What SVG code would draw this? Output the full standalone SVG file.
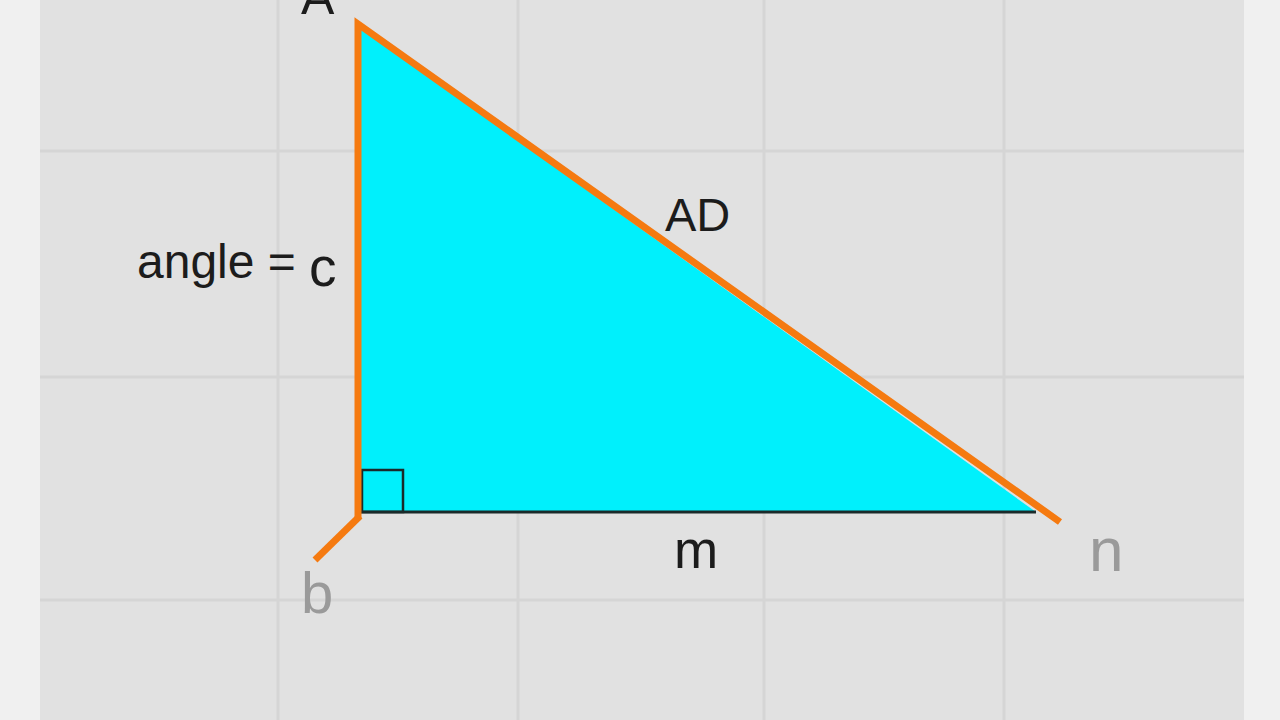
<svg xmlns="http://www.w3.org/2000/svg" width="1280" height="720" viewBox="0 0 1280 720">
<style>
.lbl{font-family:"Liberation Sans",Arial,sans-serif;font-size:48px;fill:#1c1c1c}
.gray{fill:#9a9a9a}
.grid{stroke:#d5d5d5;stroke-width:3}
.edge{stroke:#f57a10;stroke-width:7;fill:none;stroke-linecap:butt;stroke-linejoin:miter}
</style>
<rect x="0" y="0" width="1280" height="720" fill="#f0f0f0"/>
<rect x="40" y="0" width="1204" height="720" fill="#e1e1e1"/>
<g id="grid">
<line class="grid" x1="40" y1="151" x2="1244" y2="151"/>
<line class="grid" x1="40" y1="377" x2="1244" y2="377"/>
<line class="grid" x1="40" y1="600" x2="1244" y2="600"/>
<line class="grid" x1="278" y1="0" x2="278" y2="720"/>
<line class="grid" x1="518" y1="0" x2="518" y2="720"/>
<line class="grid" x1="764" y1="0" x2="764" y2="720"/>
<line class="grid" x1="1004" y1="0" x2="1004" y2="720"/>
</g>
<g id="triangle">
<polygon points="358,26 358,512 1036,512" fill="#00f0fc"/>
<line x1="358" y1="512" x2="1036" y2="512" stroke="#1a2a2a" stroke-width="3"/>
<rect x="362" y="470" width="41" height="42" fill="none" stroke="#1a2a2a" stroke-width="2.5"/>
</g>
<g id="connectors">
<polyline class="edge" points="358,518 358,24 1060,522"/>
<line class="edge" x1="360" y1="516" x2="315" y2="560" stroke-width="6"/>
</g>
<g id="labels">
<text class="lbl" x="301" y="14" style="font-size:50px">A</text>
<text class="lbl" x="665" y="231" style="font-size:47px">AD</text>
<text class="lbl" x="137" y="278">angle =</text>
<text class="lbl" x="309" y="286" style="font-size:55px">c</text>
<text class="lbl" x="674" y="568" style="font-size:53px">m</text>
<text class="lbl gray" x="301" y="613" style="font-size:58px">b</text>
<text class="lbl gray" x="1089" y="571" style="font-size:62px">n</text>
</g>
</svg>
